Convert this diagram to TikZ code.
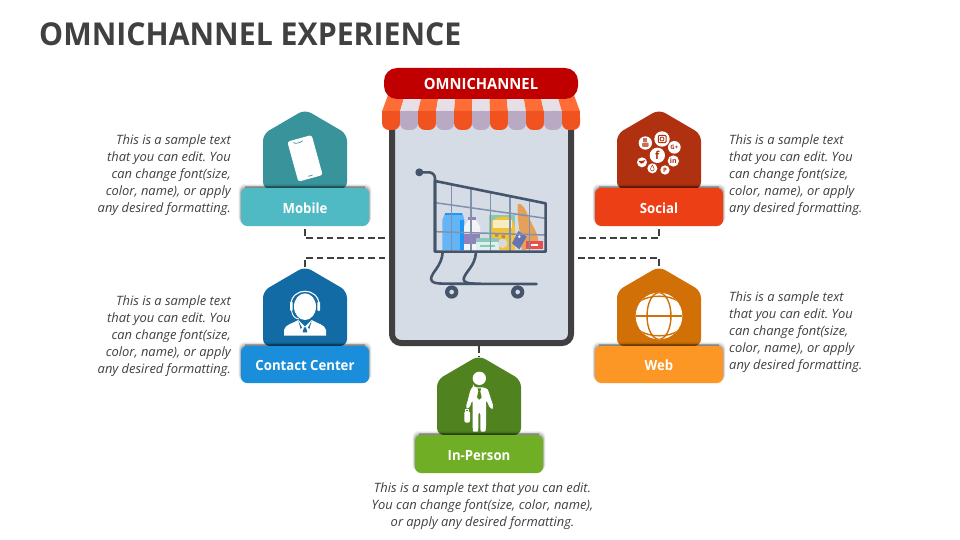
\documentclass[tikz,border=0pt]{standalone}
\usepackage{fontspec}
\setmainfont{Open Sans}
\newfontfamily\titlefam[FakeStretch=0.96]{Open Sans}
\newfontfamily\labelfam[FakeStretch=0.94]{Open Sans}
\usetikzlibrary{calc}
\definecolor{ink}{HTML}{404040}
\definecolor{screenc}{HTML}{D6DCE5}
\definecolor{cartc}{HTML}{44546A}
\definecolor{gridc}{HTML}{7F92AD}
\definecolor{mobH}{HTML}{38939B}\definecolor{mobL}{HTML}{4FB9C4}
\definecolor{socH}{HTML}{B0310F}\definecolor{socL}{HTML}{EC3F16}
\definecolor{conH}{HTML}{126BA4}\definecolor{conL}{HTML}{1A8EDA}
\definecolor{webH}{HTML}{D07006}\definecolor{webL}{HTML}{FC9624}
\definecolor{perH}{HTML}{50831F}\definecolor{perL}{HTML}{6FAE25}
\definecolor{awA}{HTML}{FF6D36}\definecolor{awB}{HTML}{E6E0E6}
\definecolor{awC}{HTML}{F0531F}\definecolor{awD}{HTML}{B9A9C2}
\definecolor{pillc}{HTML}{C00000}
\definecolor{gBlue}{HTML}{64B5F6}\definecolor{gBlueD}{HTML}{1E96F5}
\definecolor{gMilk}{HTML}{F4F4F4}\definecolor{gPurple}{HTML}{9580BC}
\definecolor{gGreen}{HTML}{8CC7B0}\definecolor{gYellow}{HTML}{F2C33A}
\definecolor{gCream}{HTML}{F7EDC0}\definecolor{gBread}{HTML}{E6A05A}
\definecolor{gTag}{HTML}{6673B5}\definecolor{gRed}{HTML}{E85050}
\definecolor{gTub}{HTML}{DDF0EE}\definecolor{gTubD}{HTML}{8CC7B8}
\tikzset{
 titletext/.style={inner sep=0pt,anchor=west,text=ink,font=\titlefam\fontsize{31.5}{36}\selectfont\bfseries},
 lefttext/.style={inner sep=0pt,anchor=north east,align=right,text=ink,font=\frenchspacing\fontsize{12.9}{17}\selectfont\itshape},
 righttext/.style={inner sep=0pt,anchor=north west,align=left,text=ink,font=\frenchspacing\fontsize{12.9}{17}\selectfont\itshape},
 midtext/.style={inner sep=0pt,anchor=north,align=center,text=ink,font=\frenchspacing\fontsize{12.9}{17}\selectfont\itshape},
 labelbox/.style={rounded corners=6pt,minimum width=128pt,minimum height=38pt,inner sep=0pt,outer sep=0pt,text=white,text height=12.6pt,text depth=0pt,font=\labelfam\fontsize{14}{16}\selectfont\bfseries},
 devicebox/.style={draw=ink,line width=6pt,fill=screenc,rounded corners=9pt,minimum width=179pt,minimum height=223pt,inner sep=0pt,outer sep=0pt},
 pillbox/.style={fill=pillc,rounded corners=13pt,minimum width=194pt,minimum height=31pt,inner sep=0pt,outer sep=0pt,text=white,font=\titlefam\fontsize{15.4}{16}\selectfont\bfseries},
 conn/.style={draw=ink,line width=1.5pt,dash pattern=on 6.5pt off 3.8pt},
 cartline/.style={draw=cartc,line width=2.6pt,line cap=round,line join=round},
 gridline/.style={draw=gridc,line width=1.5pt},
}
\newcommand{\hexa}[3]{%
 \fill[#3,rounded corners=7pt] (#1,#2-1.5)--(#1+42,#2+23)--(#1+42,#2+78)--(#1-42,#2+78)--(#1-42,#2+23)--cycle;}
\newcommand{\softshadow}[3]{%
 \foreach \d/\o in {4/0.05,3/0.07,2/0.10,1/0.14}{
  \fill[black,opacity=\o,rounded corners=6pt] (#1-64-0.6*\d,#2-\d) rectangle (#1+64+0.6*\d,#2+#3-2);}
 \fill[black,opacity=0.22] (#1-60,#2-2) rectangle (#1+60,#2+2);}
\begin{document}
\begin{tikzpicture}[x=1pt,y=-1pt]
\useasboundingbox (0,0) rectangle (960,540);
\fill[white] (0,0) rectangle (960,540);
\node[titletext] (title) at (39,34) {OMNICHANNEL EXPERIENCE};

% device
\node[devicebox] (device) at (481.5,231.5) {};

% awning
\foreach \i in {0,...,10}{
 \pgfmathsetmacro{\xa}{382+18*\i}\pgfmathsetmacro{\xb}{\xa+18}
 \pgfmathsetmacro{\ua}{388+16.91*\i}\pgfmathsetmacro{\ub}{\ua+16.91}
 \pgfmathtruncatemacro{\odd}{mod(\i,2)}
 \ifnum\odd=0
  \fill[awA] (\ua,95)--(\ub,95)--(\xb,111.5)--(\xa,111.5)--cycle;
  \fill[awC,rounded corners=7pt] (\xa,111)--(\xb,111)--(\xb,130)--(\xa,130)--cycle;
  \fill[awC] (\xa,111) rectangle (\xb,120);
 \else
  \fill[awB] (\ua,95)--(\ub,95)--(\xb,111.5)--(\xa,111.5)--cycle;
  \fill[awD,rounded corners=7pt] (\xa,111)--(\xb,111)--(\xb,130)--(\xa,130)--cycle;
  \fill[awD] (\xa,111) rectangle (\xb,120);
 \fi
}
\node[pillbox] (pill) at (481,83.5) {OMNICHANNEL};

% cart
\begin{scope}[shift={(400,155)},scale=1/3]
 \fill[gBlue] (127,195)--(135,175)--(188,175)--(193,195)--(193,285)--(127,285)--cycle;
 \fill[gBlueD] (180,195) rectangle (193,285);
 \fill[gBlueD] (135,174) rectangle (185,180);
 \fill[gMilk] (205,195) -- (228,195) -- (240,215) -- (240,285) -- (192,285) -- (192,215) -- cycle;
 \fill[gPurple] (204,186) rectangle (228,195);
 \fill[gPurple] (192,238) rectangle (240,266);
 \fill[gGreen] (268,180) rectangle (345,285);
 \fill[gYellow] (275,200) .. controls (300,175) and (340,180) .. (345,215) -- (345,285) -- (275,285) -- cycle;
 \fill[gCream] (280,195) rectangle (335,218);
 \fill[gBread] (353,160) .. controls (350,135) and (372,145) .. (385,185) .. controls (400,215) and (415,240) .. (415,258) -- (378,258) -- (378,285) -- (365,285) .. controls (362,240) and (352,200) .. (353,160) -- cycle;
 \fill[gBread!85!black] (290,240) circle (6) (310,245) circle (6);
 \fill[gTag] (355,228)--(380,245)--(358,283)--(336,265)--cycle;
 \fill[white] (358,245) circle (4);
 \fill[gRed] (378,257) rectangle (430,283);
 \fill[white] (392,268) rectangle (414,273);
 \fill[gTub] (227,250) rectangle (296,285);
 \fill[gTubD] (227,250) rectangle (296,260);
 \fill[gTubD] (240,270) rectangle (285,276);
 \fill[white!85!black] (308,265) circle (14);
 \draw[gridline] (155,88)--(155,290);
 \draw[gridline] (213,100)--(213,290);
 \draw[gridline] (271,112)--(271,290);
 \draw[gridline] (330,123)--(330,290);
 \draw[gridline] (388,135)--(388,290);
 \draw[gridline] (105,143)--(437,190);
 \draw[gridline] (105,230)--(437,240);
 \draw[cartline] (105,78)--(437,145)--(437,290)--(105,290)--cycle;
 \draw[cartline,rounded corners=6pt] (58,52)--(105,52)--(105,290);
 \fill[cartc] (58,52) circle (12);
 \draw[cartline] (128,292) .. controls (125,335) and (95,350) .. (93,372) .. controls (95,385) and (110,385) .. (130,386) -- (410,387);
 \draw[cartline] (228,292) .. controls (225,335) and (195,350) .. (191,372) .. controls (192,382) and (200,385) .. (225,386);
 \fill[cartc] (155,411) circle (20) (353,411) circle (20);
 \fill[screenc] (155,411) circle (7) (353,411) circle (7);
\end{scope}

% Mobile
\hexa{305}{111}{mobH}
\softshadow{305}{188}{38}
\node[labelbox,fill=mobL] (mobile) at (305,207) {Mobile};
\coordinate (mobileTop) at (305,111);
\begin{scope}[shift={(230,105)},scale=1/3]
 \fill[white,rounded corners=2.5pt] (172,110)--(245,90)--(278,210)--(205,230)--cycle;
 \draw[mobH,line width=0.7pt] (190,113) .. controls (198,117) and (210,114) .. (218,107);
 \draw[mobH,line width=0.7pt] (235,214)--(248,210);
\end{scope}

% Social
\hexa{659}{111}{socH}
\softshadow{659}{188}{38}
\node[labelbox,fill=socL] (social) at (659,207) {Social};
\coordinate (socialTop) at (659,111);
\begin{scope}[shift={(575,105)},scale=1/3]
 \foreach \x/\y/\r in {211/114/20,261/102/23,298/127/19,247/151/23,295/168/17,270/195/14,232/190/15,201/172/15}
  \fill[white] (\x,\y) circle (\r);
 \fill[socH!70!white,rounded corners=1pt] (201,113) rectangle (221,126);
 \fill[socH!70!white] (205,100) rectangle (216,110);
 \draw[socH,line width=1pt,rounded corners=1pt] (250,91) rectangle (273,113);
 \draw[socH,line width=0.8pt] (261,102) circle (6);
 \node[inner sep=0pt,text=socH,font=\fontsize{6}{6}\selectfont\bfseries] (sgp) at (298,127) {G+};
 \node[inner sep=0pt,text=socH,font=\fontsize{11}{11}\selectfont\bfseries] (sfb) at (247,151) {f};
 \node[inner sep=0pt,text=socH,font=\fontsize{7}{7}\selectfont\bfseries] (sin) at (295,168) {in};
 \node[inner sep=0pt,text=socH,font=\fontsize{6}{6}\selectfont\bfseries] (spi) at (270,195) {P};
 \fill[socH] (191,168) .. controls (196,178) and (203,180) .. (211,165) .. controls (205,166) and (198,170) .. (191,168) -- cycle;
 \draw[socH,line width=0.5pt] (232,180) .. controls (222,195) and (228,198) .. (232,198) .. controls (236,198) and (242,195) .. (232,180) -- cycle;
\end{scope}

% Contact Center
\hexa{305}{268}{conH}
\softshadow{305}{346}{37}
\node[labelbox,fill=conL,minimum height=37pt] (contact) at (305,364.5) {Contact Center};
\coordinate (contactTop) at (305,268);
\begin{scope}[shift={(230,255)},scale=1/3]
 \fill[white] (225,155) ellipse (33 and 40);
 \draw[white,line width=1.1pt] (183,150) .. controls (183,95) and (267,95) .. (267,150);
 \fill[white,rounded corners=1pt] (180,140) rectangle (188,168);
 \fill[white,rounded corners=1pt] (262,140) rectangle (270,168);
 \draw[white,line width=0.9pt] (185,168) .. controls (188,185) and (195,190) .. (207,192);
 \fill[white] (162,242)--(162,225) .. controls (165,208) and (190,205) .. (205,195)--(225,215)--(245,195) .. controls (260,205) and (285,208) .. (288,225)--(288,242)--cycle;
 \fill[conH] (205,197)--(216,218)--(212,222)--cycle;
 \fill[conH] (245,197)--(234,218)--(238,222)--cycle;
 \fill[conH] (222,217)--(228,217)--(232,232)--(218,232)--cycle;
\end{scope}

% Web
\hexa{659}{268}{webH}
\softshadow{659}{346}{37}
\node[labelbox,fill=webL,minimum height=37pt] (web) at (659,364.5) {Web};
\coordinate (webTop) at (659,268);
\begin{scope}[shift={(575,255)},scale=1/3]
 \fill[white] (252,183) circle (70);
 \begin{scope}
  \clip (252,183) circle (70);
  \draw[webH,line width=1.4pt] (252,183) ellipse (36 and 70);
  \draw[webH,line width=2.2pt] (180,183)--(324,183);
  \draw[webH,line width=1.4pt] (192,140) .. controls (225,118) and (280,118) .. (312,140);
  \draw[webH,line width=1.4pt] (192,226) .. controls (225,248) and (280,248) .. (312,226);
 \end{scope}
\end{scope}

% In-Person
\hexa{479}{357}{perH}
\softshadow{479}{435}{38}
\node[labelbox,fill=perL] (person) at (479,454) {In-Person};
\coordinate (personTop) at (479,357);
\begin{scope}[shift={(400,340)},scale=1/3]
 \fill[white] (238,115) circle (20);
 \fill[white,rounded corners=3pt] (220,142)--(256,142) .. controls (265,150) and (275,185) .. (282,203)--(272,209)--(258,178)--(258,265) .. controls (256,275) and (242,275) .. (241,265)--(241,215)--(235,215)--(235,265) .. controls (234,275) and (219,275) .. (218,265)--(218,178)--(207,207)--(196,203) .. controls (203,185) and (210,150) .. (220,142)--cycle;
 \fill[perH] (233,145)--(243,145)--(241,155)--(245,172)--(238,179)--(231,172)--(235,155)--cycle;
 \fill[white,rounded corners=2pt] (193,213) rectangle (210,248);
 \draw[white,line width=0.6pt] (197,213)--(197,208)--(206,208)--(206,213);
\end{scope}

% connectors
\draw[conn,shorten <=3pt,shorten >=7pt] (mobile.south) |- ($(device.west)+(0,6.5)$);
\draw[conn,shorten <=7pt] ($(device.west)+(0,26.5)$) -| (contactTop);
\draw[conn,shorten <=3pt,shorten >=7pt] (social.south) |- ($(device.east)+(0,6.5)$);
\draw[conn,shorten <=7pt] ($(device.east)+(0,26.5)$) -| (webTop);
\draw[conn,shorten <=3pt] ($(device.south)+(-2.5,0)$) -- (personTop);

% texts
\node[lefttext] (t1) at (231,134.5) {This is a sample text\\that you can edit. You\\can change font(size,\\color, name), or apply\\any desired formatting.};
\node[lefttext] (t2) at (231,295.5) {This is a sample text\\that you can edit. You\\can change font(size,\\color, name), or apply\\any desired formatting.};
\node[righttext] (t3) at (729,134.5) {This is a sample text\\that you can edit. You\\can change font(size,\\color, name), or apply\\any desired formatting.};
\node[righttext] (t4) at (729,291.5) {This is a sample text\\that you can edit. You\\can change font(size,\\color, name), or apply\\any desired formatting.};
\node[midtext] (t5) at (482.5,482) {This is a sample text that you can edit.\\You can change font(size, color, name),\\or apply any desired formatting.};
\end{tikzpicture}
\end{document}
